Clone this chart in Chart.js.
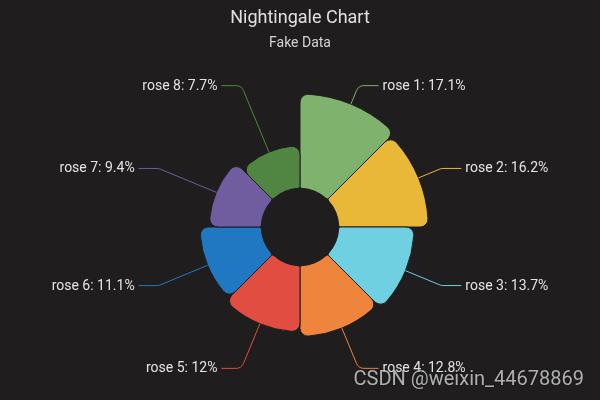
<!DOCTYPE html>
<html>
<head>
<meta charset="utf-8">
<title>Nightingale Chart</title>
<script src="https://cdn.jsdelivr.net/npm/chart.js@4.4.1/dist/chart.umd.min.js"></script>
<style>
  html, body { margin: 0; padding: 0; background: #1f1d1e; }
  canvas { display: block; }
</style>
</head>
<body>
<canvas id="roseChart" width="600" height="400"></canvas>
<script>
const categories = ['rose 1', 'rose 2', 'rose 3', 'rose 4', 'rose 5', 'rose 6', 'rose 7', 'rose 8'];
const roseValues = [40, 38, 32, 30, 28, 26, 22, 18];
const roseColors = ['#7eb26d', '#eab839', '#6ed0e0', '#ef843c', '#e24d42', '#1f78c1', '#705da0', '#508642'];

const BG = '#1f1d1e';
const HOLE = 39 / 134;   // part of the radius left empty in the middle
const VALUE_MAX = 40;

const total = roseValues.reduce((a, b) => a + b, 0);
const percent = v => parseFloat((v / total * 100).toFixed(1));

// cut the hole in the middle (polarArea always starts at radius 0)
const holePlugin = {
  id: 'hole',
  afterDatasetsUpdate(chart) {
    const r = chart.scales.r.drawingArea * HOLE;
    chart.getDatasetMeta(0).data.forEach(arc => { arc.innerRadius = r; });
  }
};

// outside labels with leader lines
const labelPlugin = {
  id: 'roseLabels',
  afterDatasetsDraw(chart) {
    const ctx = chart.ctx;
    const bendR = chart.scales.r.drawingArea + 20;
    ctx.save();
    ctx.font = '14px Roboto';
    ctx.textBaseline = 'middle';
    chart.getDatasetMeta(0).data.forEach((arc, i) => {
      const mid = (arc.startAngle + arc.endAngle) / 2;
      const cos = Math.cos(mid), sin = Math.sin(mid);
      const x0 = arc.x + cos * arc.outerRadius, y0 = arc.y + sin * arc.outerRadius;
      const x1 = arc.x + cos * bendR, y1 = arc.y + sin * bendR;
      const dir = cos < 0 ? -1 : 1;
      const x2 = x1 + dir * 20;

      ctx.strokeStyle = roseColors[i];
      ctx.lineWidth = 1;
      ctx.beginPath();
      ctx.moveTo(x0, y0);
      ctx.arcTo(x1, y1, x2, y1, 8);
      ctx.lineTo(x2, y1);
      ctx.stroke();

      ctx.fillStyle = '#e4e4e4';
      ctx.textAlign = dir < 0 ? 'right' : 'left';
      ctx.fillText(`${categories[i]}: ${percent(roseValues[i])}%`, x2 + dir * 4, y1 + 0.5);
    });
    ctx.restore();
  }
};

const watermarkPlugin = {
  id: 'watermark',
  afterDraw(chart) {
    const ctx = chart.ctx;
    ctx.save();
    ctx.font = '20px Roboto';
    ctx.textAlign = 'right';
    ctx.textBaseline = 'middle';
    ctx.shadowColor = 'rgba(0, 0, 0, 0.6)';
    ctx.shadowBlur = 2;
    ctx.fillStyle = 'rgba(215, 215, 215, 0.8)';
    ctx.fillText('CSDN @weixin_44678869', 584, 380);
    ctx.restore();
  }
};

new Chart(document.getElementById('roseChart'), {
  type: 'polarArea',
  data: {
    labels: categories,
    datasets: [{
      data: roseValues,
      backgroundColor: roseColors,
      borderColor: BG,
      borderWidth: 1,
      borderRadius: { outerStart: 8, outerEnd: 8, innerStart: 2, innerEnd: 2 }
    }]
  },
  options: {
    responsive: false,
    animation: false,
    layout: { padding: { left: 166, right: 166, top: 0, bottom: 39 } },
    scales: {
      r: {
        display: false,
        min: -VALUE_MAX * HOLE / (1 - HOLE),
        max: VALUE_MAX
      }
    },
    plugins: {
      legend: { display: false },
      title: {
        display: true,
        text: 'Nightingale Chart',
        color: '#e0e0e0',
        font: { family: 'Roboto', size: 18, weight: 'normal' },
        padding: { top: 8, bottom: 2 }
      },
      subtitle: {
        display: true,
        text: 'Fake Data',
        color: '#d4d4d4',
        font: { family: 'Roboto', size: 14 },
        padding: { top: 3.5, bottom: 41.5 }
      }
    }
  },
  plugins: [holePlugin, labelPlugin, watermarkPlugin]
});
</script>
</body>
</html>
